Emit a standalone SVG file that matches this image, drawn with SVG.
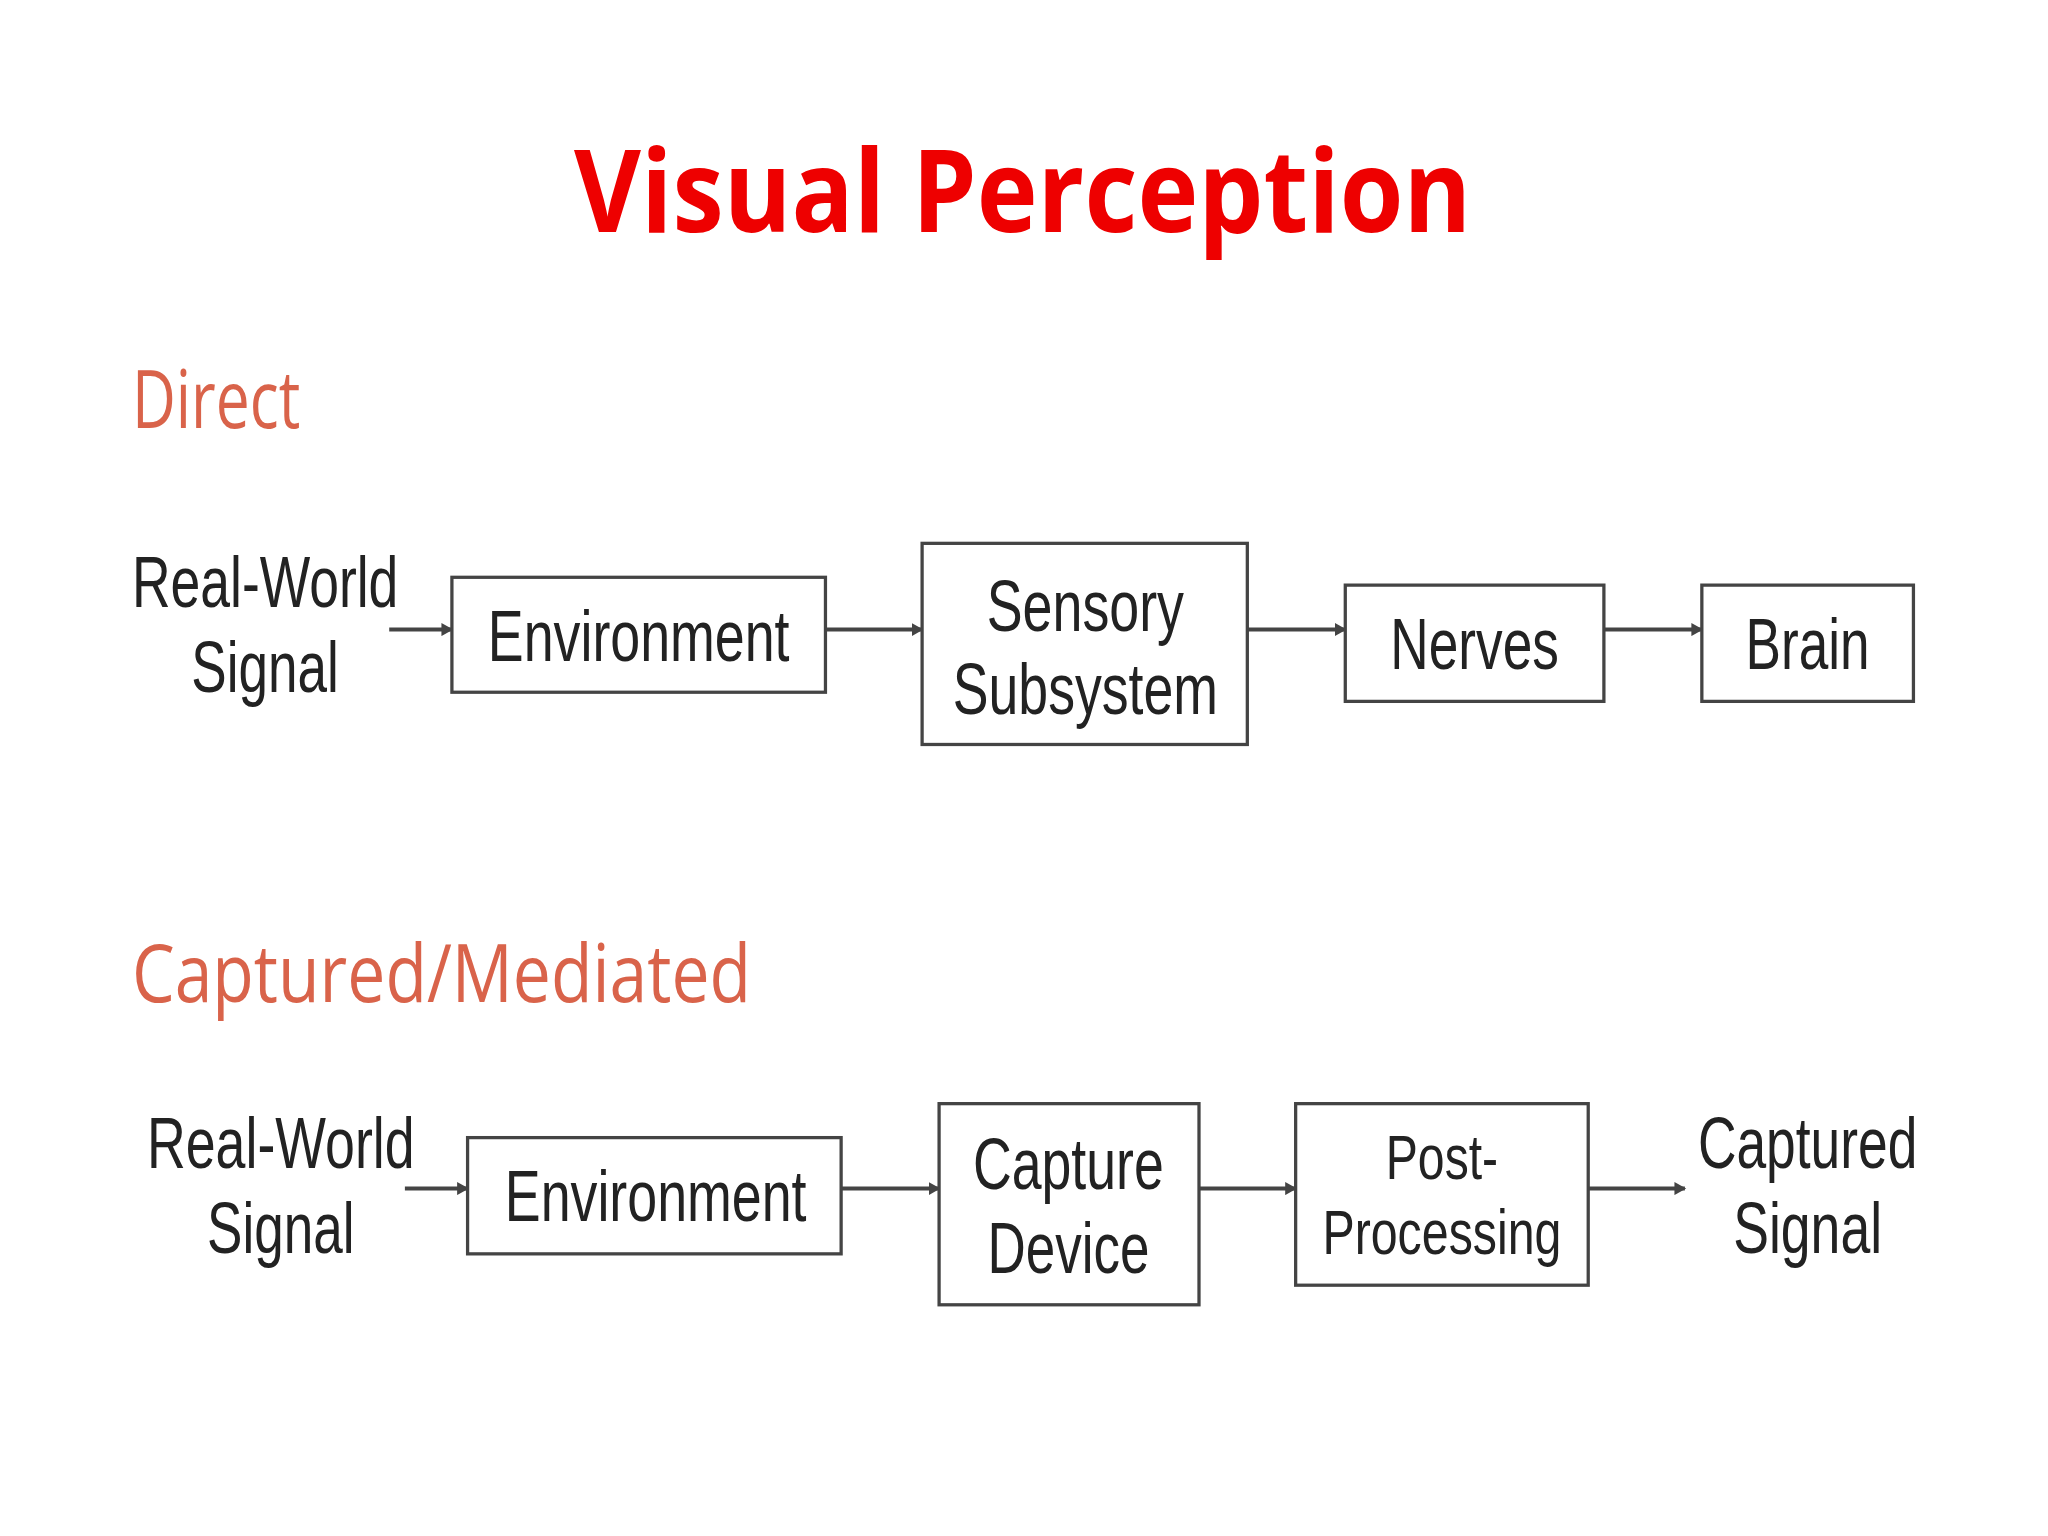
<svg xmlns="http://www.w3.org/2000/svg" width="2048" height="1536" viewBox="0 0 2048 1536">
<style>
.t{font-family:"Liberation Sans",Arial,sans-serif;font-size:56px;fill:#222;text-anchor:middle}
.s{font-size:48px}
.b{fill:#fff;stroke:#444;stroke-width:2.5}
.h{font-family:"Open Sans","Noto Sans",sans-serif;font-size:62px;fill:#d9634a}
.c{stroke:#444;stroke-width:3;fill:none;marker-end:url(#a)}
</style>
<defs><marker id="a" markerWidth="10" markerHeight="10" refX="8" refY="5" orient="auto" markerUnits="userSpaceOnUse"><path d="M0,0 L9,5 L0,10 Z" fill="#444"/></marker></defs>
<rect width="2048" height="1536" fill="#fff"/>
<g transform="scale(1.3061)">
<text x="783" y="178" font-family="Open Sans,Noto Sans,sans-serif" font-weight="bold" font-size="88" fill="#ee0000" text-anchor="middle" textLength="687" lengthAdjust="spacingAndGlyphs">Visual Perception</text>
<text class="h" x="101" y="328" textLength="129" lengthAdjust="spacingAndGlyphs">Direct</text>
<text class="h" x="101" y="767" textLength="474" lengthAdjust="spacingAndGlyphs">Captured/Mediated</text>
<g id="connectors">
<path class="c" d="M298,482H346"/><path class="c" d="M632,482H706"/><path class="c" d="M955,482H1030"/><path class="c" d="M1228,482H1303"/>
<path class="c" d="M310,910H358"/><path class="c" d="M644,910H719"/><path class="c" d="M918,910H992"/><path class="c" d="M1216,910H1290"/>
</g>
<g id="rw1"><text class="t" x="203" y="465" textLength="204" lengthAdjust="spacingAndGlyphs">Real-World</text><text class="t" x="203" y="530" textLength="113" lengthAdjust="spacingAndGlyphs">Signal</text></g>
<g id="env1"><rect class="b" x="346" y="442" width="286" height="88"/><text class="t" x="489" y="506" textLength="231" lengthAdjust="spacingAndGlyphs">Environment</text></g>
<g id="sensory"><rect class="b" x="706" y="416" width="249" height="154"/><text class="t" x="831" y="483" textLength="151" lengthAdjust="spacingAndGlyphs">Sensory</text><text class="t" x="831" y="547" textLength="203" lengthAdjust="spacingAndGlyphs">Subsystem</text></g>
<g id="nerves"><rect class="b" x="1030" y="448" width="198" height="89"/><text class="t" x="1129" y="512" textLength="129" lengthAdjust="spacingAndGlyphs">Nerves</text></g>
<g id="brain"><rect class="b" x="1303" y="448" width="162" height="89"/><text class="t" x="1384" y="512" textLength="95" lengthAdjust="spacingAndGlyphs">Brain</text></g>
<g id="rw2"><text class="t" x="215" y="894" textLength="205" lengthAdjust="spacingAndGlyphs">Real-World</text><text class="t" x="215" y="959" textLength="113" lengthAdjust="spacingAndGlyphs">Signal</text></g>
<g id="env2"><rect class="b" x="358" y="871" width="286" height="89"/><text class="t" x="502" y="935" textLength="231" lengthAdjust="spacingAndGlyphs">Environment</text></g>
<g id="capture"><rect class="b" x="719" y="845" width="199" height="154"/><text class="t" x="818" y="910" textLength="146" lengthAdjust="spacingAndGlyphs">Capture</text><text class="t" x="818" y="975" textLength="124" lengthAdjust="spacingAndGlyphs">Device</text></g>
<g id="post"><rect class="b" x="992" y="845" width="224" height="139"/><text class="t s" x="1104" y="903" textLength="86" lengthAdjust="spacingAndGlyphs">Post-</text><text class="t s" x="1104" y="960" textLength="183" lengthAdjust="spacingAndGlyphs">Processing</text></g>
<g id="captured"><text class="t" x="1384" y="894" textLength="168" lengthAdjust="spacingAndGlyphs">Captured</text><text class="t" x="1384" y="959" textLength="114" lengthAdjust="spacingAndGlyphs">Signal</text></g>
</g>
</svg>
